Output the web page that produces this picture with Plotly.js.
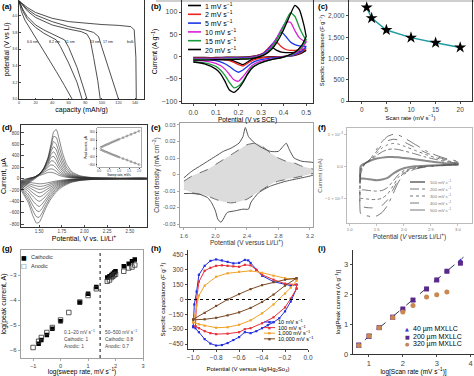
<!DOCTYPE html>
<html><head><meta charset="utf-8">
<script src="https://cdn.plot.ly/plotly-3.0.1.min.js"></script>
<style>html,body{margin:0;padding:0;background:#fff}#chart{width:474px;height:376px}</style>
</head><body><div id="chart"></div>
<script>
// ================= DATA =================
// (a) discharge curves
const aLabels = ['6.6 nm','8.2 nm','11 nm','13 nm','17 nm','bulk'];
const aCap66 = [0,3,7,15,25,35,45,55,64];
const aV66   = [4.18,4.05,3.95,3.82,3.67,3.5,3.33,3.16,3.0];
const aCap82 = [0,5,10,20,30,40,45,50,60,70,76];
const aV82   = [4.18,4.05,3.96,3.86,3.79,3.74,3.71,3.63,3.43,3.2,3.0];
const aCap11 = [0,5,10,20,30,40,50,55,60,70,82];
const aV11   = [4.18,4.07,3.99,3.89,3.83,3.78,3.74,3.71,3.62,3.38,3.0];
const aCap13 = [0,10,20,40,60,75,82,86,90,95,98];
const aV13   = [4.18,4.06,3.98,3.89,3.84,3.81,3.78,3.71,3.5,3.22,3.0];
const aCap17 = [0,10,20,40,60,80,90,96,100,110,120];
const aV17   = [4.18,4.08,4.01,3.93,3.87,3.83,3.8,3.75,3.62,3.31,3.0];
const aCapBulk = [0,10,20,40,60,80,100,120,135,139,141,141.5];
const aVBulk   = [4.18,4.1,4.04,3.97,3.93,3.91,3.895,3.885,3.87,3.83,3.5,3.0];

// (b) CVs at several scan rates
const bNames = ['1 mV s<sup>−1</sup>','2 mV s<sup>−1</sup>','5 mV s<sup>−1</sup>','10 mV s<sup>−1</sup>','15 mV s<sup>−1</sup>','20 mV s<sup>−1</sup>'];
const bColors = ['#000000','#e8261f','#1e36e6','#d81fd8','#1a9a3c','#000000'];
const bXf = [0.0,0.05,0.1,0.15,0.2,0.25,0.28,0.31,0.33,0.35,0.37,0.39,0.41,0.43,0.45,0.47,0.49,0.5];
const bXr = [0.5,0.48,0.45,0.42,0.39,0.35,0.32,0.29,0.26,0.24,0.22,0.2,0.18,0.16,0.14,0.12,0.1,0.05,0.0];
const bFwd = [
  [-2,-2,-2,-1,-1,0,2,6,12,20,14,10,9,9,10,11,13,14],
  [-3,-3,-3,-2,-2,-1,2,8,18,28,32,22,16,14,14,15,17,18],
  [-4,-4,-4,-3,-3,-2,1,7,16,28,42,55,45,33,27,24,23,23],
  [-5,-5,-5,-4,-4,-3,0,5,13,25,42,62,77,77,58,42,35,33],
  [-6,-6,-6,-5,-5,-4,-1,4,11,22,38,58,80,98,90,65,45,38],
  [-8,-8,-7,-7,-6,-5,-2,3,9,18,32,50,72,95,115,105,70,45]
];
const bRev = [
  [14,8,3,1,0,0,-1,-2,-6,-12,-18,-14,-10,-7,-5,-4,-3,-2,-2],
  [18,10,4,1,0,-1,-2,-4,-9,-15,-21,-18,-13,-9,-7,-5,-4,-3,-3],
  [23,12,5,1,-1,-3,-5,-8,-14,-22,-30,-35,-30,-22,-16,-12,-9,-6,-5],
  [33,18,7,2,-2,-5,-8,-12,-20,-32,-45,-55,-52,-40,-28,-20,-15,-10,-8],
  [38,22,9,2,-3,-6,-10,-15,-24,-38,-55,-66,-70,-58,-42,-30,-22,-14,-11],
  [45,25,10,3,-2,-6,-10,-16,-26,-40,-58,-72,-80,-75,-55,-38,-28,-16,-12]
];

// (c) specific capacitance vs scan rate
const cRate = [1,2,5,10,15,20];
const cCap  = [2200,1950,1670,1490,1370,1260];

// (d) CVs (anodic / cathodic branches on shared potential grids)
const dXf = [1.30,1.35,1.40,1.45,1.50,1.55,1.60,1.63,1.66,1.69,1.72,1.76,1.80,1.86,1.95,2.10,2.40,2.69];
const dXr = [2.69,2.40,2.10,1.95,1.85,1.75,1.68,1.62,1.57,1.53,1.50,1.47,1.43,1.38,1.33,1.30];
const dAnodic = [
  [-200,-120,-60,-10,60,170,380,600,820,860,700,440,260,120,50,15,5,3],
  [-170,-100,-45,5,70,175,370,560,740,720,560,350,200,95,40,12,4,2],
  [-150,-85,-35,12,75,175,350,520,650,600,450,280,160,75,30,10,3,2],
  [-130,-70,-25,18,78,170,330,470,560,500,360,220,125,60,25,8,3,2],
  [-110,-55,-15,22,80,165,300,420,470,400,280,170,100,48,20,7,2,1],
  [-95,-45,-8,25,80,155,270,370,390,320,220,135,80,38,16,6,2,1],
  [-80,-35,-2,27,75,140,235,310,305,245,170,105,62,30,13,5,2,1],
  [-65,-25,3,28,70,125,200,240,230,180,125,78,46,23,10,4,1,1],
  [-50,-15,8,28,62,105,155,170,160,125,88,56,34,17,8,3,1,1],
  [-35,-8,10,26,50,80,108,110,100,80,57,37,23,12,6,2,1,1]
];
const dCathodic = [
  [-3,-5,-15,-35,-70,-150,-250,-380,-530,-680,-770,-780,-650,-420,-280,-200],
  [-2,-4,-13,-30,-60,-130,-220,-340,-480,-610,-680,-670,-560,-370,-250,-170],
  [-2,-4,-11,-26,-52,-115,-195,-300,-420,-530,-580,-560,-470,-320,-220,-150],
  [-2,-3,-9,-22,-45,-100,-170,-260,-370,-450,-490,-460,-390,-270,-190,-130],
  [-1,-3,-8,-19,-38,-85,-145,-225,-310,-375,-400,-370,-310,-220,-160,-110],
  [-1,-2,-7,-16,-32,-72,-122,-190,-255,-305,-320,-295,-250,-180,-130,-95],
  [-1,-2,-6,-13,-26,-60,-100,-155,-205,-240,-250,-230,-195,-145,-105,-80],
  [-1,-2,-5,-11,-21,-48,-80,-122,-160,-185,-190,-175,-150,-115,-85,-65],
  [-1,-1,-4,-9,-17,-38,-62,-93,-120,-135,-138,-128,-112,-88,-68,-50],
  [-1,-1,-3,-7,-13,-28,-45,-65,-82,-90,-92,-86,-76,-62,-50,-35]
];
// (d) inset: peak current vs sweep rate
const dInsRate = [0.1,0.2,0.3,0.4,0.5,0.6,0.7,0.8,0.9,1.0,1.2,1.4,1.6,1.8,2.0];
const dInsAn   = [60,110,160,200,240,290,330,370,410,450,530,610,690,770,850];
const dInsCat  = [-55,-100,-145,-185,-225,-265,-305,-340,-380,-420,-490,-560,-640,-710,-780];

// (e) CV solid and dashed
const eSolUpX = [1.6,1.7,1.8,1.9,2.0,2.1,2.2,2.3,2.35,2.38,2.42,2.5,2.6,2.7,2.8,2.86,2.9,2.94,3.0,3.1,3.25];
const eSolUpY = [-0.002,0.002,0.005,0.008,0.011,0.014,0.016,0.019,0.023,0.0285,0.023,0.019,0.016,0.014,0.014,0.017,0.019,0.015,0.01,0.008,0.007];
const eSolLoX = [3.25,3.1,2.9,2.7,2.55,2.45,2.42,2.35,2.25,2.15,2.1,2.07,2.03,2.0,1.95,1.9,1.8,1.7,1.6];
const eSolLoY = [0.0,-0.002,-0.004,-0.007,-0.011,-0.017,-0.021,-0.021,-0.022,-0.023,-0.027,-0.029,-0.027,-0.022,-0.017,-0.014,-0.012,-0.0115,-0.0115];
const eDashUpX = [1.6,1.7,1.8,1.9,2.0,2.1,2.2,2.3,2.4,2.5,2.55,2.6,2.7,2.8,2.9,3.0,3.1,3.25];
const eDashUpY = [-0.004,-0.001,0.001,0.003,0.006,0.009,0.012,0.015,0.018,0.019,0.0185,0.017,0.013,0.01,0.008,0.007,0.005,0.003];
const eDashLoX = [3.25,3.1,3.0,2.9,2.8,2.7,2.6,2.5,2.4,2.3,2.2,2.1,2.0,1.9,1.8,1.7,1.6];
const eDashLoY = [0.001,-0.001,-0.002,-0.003,-0.004,-0.006,-0.009,-0.012,-0.015,-0.0165,-0.0172,-0.0165,-0.015,-0.013,-0.012,-0.011,-0.009];

// (f) CVs at 100-500 mV/s (current in units of 1e-3 mA)
const fNames = ['100 mV s<sup>−1</sup>','200 mV s<sup>−1</sup>','300 mV s<sup>−1</sup>','400 mV s<sup>−1</sup>','500 mV s<sup>−1</sup>'];
const fXu = [1.2,1.25,1.3,1.35,1.4,1.5,1.6,1.7,1.8,1.9,2.0,2.2,2.4,2.6,2.8,3.0];
const fXl = [3.0,2.8,2.6,2.4,2.2,2.0,1.9,1.8,1.7,1.6,1.5,1.4,1.3,1.25,1.2];
const fUpper = [
  [0.0,0.08,0.12,0.16,0.2,0.25,0.28,0.3,0.3,0.29,0.27,0.23,0.18,0.14,0.1,0.08],
  [-0.1,0.05,0.12,0.16,0.22,0.35,0.46,0.53,0.55,0.53,0.49,0.4,0.3,0.22,0.15,0.1],
  [-0.15,0.03,0.12,0.17,0.24,0.42,0.58,0.68,0.72,0.7,0.64,0.51,0.38,0.27,0.18,0.12],
  [-0.2,0.02,0.12,0.18,0.26,0.48,0.68,0.8,0.85,0.83,0.77,0.6,0.44,0.31,0.21,0.14],
  [-0.25,0.0,0.12,0.19,0.28,0.55,0.78,0.94,1.0,0.98,0.9,0.7,0.5,0.35,0.24,0.16]
];
const fLower = [
  [0.06,0.05,0.04,0.03,0.01,-0.05,-0.12,-0.22,-0.35,-0.4,-0.42,-0.4,-0.38,-0.37,-0.37],
  [0.07,0.05,0.03,0.01,-0.03,-0.12,-0.25,-0.45,-0.65,-0.74,-0.76,-0.75,-0.73,-0.72,-0.72],
  [0.08,0.05,0.03,0.0,-0.05,-0.16,-0.33,-0.6,-0.85,-0.98,-1.02,-1.02,-1.0,-0.99,-0.98],
  [0.09,0.06,0.03,0.0,-0.06,-0.2,-0.4,-0.72,-1.03,-1.2,-1.27,-1.28,-1.27,-1.25,-1.24],
  [0.1,0.06,0.03,-0.01,-0.08,-0.24,-0.48,-0.85,-1.2,-1.42,-1.53,-1.55,-1.52,-1.48,-1.45]
];

// (g) log peak current vs log sweep rate
const gCathX = [-0.8,-0.7,-0.5,-0.3,0,0.7,1.0,1.3,1.7,1.78,1.85,1.9,1.95,2.0,2.3,2.48,2.6,2.7];
const gCathY = [-5.75,-5.6,-5.4,-5.15,-4.85,-4.1,-3.75,-3.48,-3.1,-3.05,-3.0,-2.95,-2.9,-2.85,-2.65,-2.55,-2.45,-2.38];
const gAnoX  = [-1.0,-0.8,-0.7,-0.5,-0.3,0,0.3,0.7,1.0,1.3,1.7,1.78,1.85,1.9,1.95,2.0,2.3,2.48,2.6,2.7];
const gAnoY  = [-5.9,-5.65,-5.5,-5.3,-5.1,-4.8,-4.5,-4.08,-3.82,-3.55,-3.25,-3.2,-3.1,-3.05,-3.0,-2.97,-2.85,-2.72,-2.68,-2.6];

// (h) capacitance CVs
const hNames = ['10 mV s<sup>−1</sup>','100 mV s<sup>−1</sup>','1,000 mV s<sup>−1</sup>','10,000 mV s<sup>−1</sup>'];
const hColors = ['#2330e0','#e8303a','#f2a227','#7a4a26'];
const h10X = [-1.0,-0.99,-0.97,-0.95,-0.9,-0.85,-0.8,-0.75,-0.7,-0.65,-0.6,-0.55,-0.52,-0.5,-0.45,-0.4,-0.3,-0.2,-0.15,-0.1,
              -0.1,-0.15,-0.2,-0.25,-0.3,-0.35,-0.4,-0.45,-0.5,-0.55,-0.6,-0.65,-0.7,-0.75,-0.8,-0.85,-0.9,-0.95,-0.98,-1.0];
const h10Y = [-280,-50,80,250,340,390,405,395,380,365,370,400,395,370,300,240,180,150,140,150,
              110,-20,-120,-190,-230,-260,-290,-320,-340,-330,-380,-410,-440,-460,-465,-445,-400,-330,-290,-270];
const h100X = [-0.98,-0.97,-0.95,-0.9,-0.85,-0.8,-0.75,-0.7,-0.65,-0.6,-0.55,-0.5,-0.45,-0.4,-0.3,-0.2,-0.1,
               -0.1,-0.15,-0.2,-0.3,-0.4,-0.5,-0.55,-0.6,-0.7,-0.8,-0.85,-0.9,-0.95,-0.98];
const h100Y = [-270,0,180,290,320,340,345,340,335,330,350,345,300,250,200,160,150,
               110,10,-80,-180,-240,-290,-300,-330,-345,-350,-340,-320,-290,-270];
const h1kX = [-1.0,-0.97,-0.95,-0.9,-0.8,-0.7,-0.6,-0.5,-0.4,-0.3,-0.2,-0.1,
              -0.1,-0.15,-0.2,-0.3,-0.4,-0.5,-0.6,-0.7,-0.8,-0.9,-0.95,-1.0];
const h1kY = [-230,-60,40,140,230,265,280,290,270,240,215,205,
              190,120,60,-50,-140,-210,-255,-280,-285,-265,-250,-230];
const h10kX = [-1.0,-0.9,-0.8,-0.7,-0.6,-0.5,-0.4,-0.3,-0.2,-0.1,
               -0.1,-0.2,-0.3,-0.4,-0.5,-0.6,-0.7,-0.8,-0.9,-1.0];
const h10kY = [-200,-135,-65,0,55,105,145,175,200,215,
               215,140,50,-25,-85,-130,-160,-185,-200,-205];

// (i) log peak current vs log scan rate
const iNames = ['40 µm MXLLC','200 µm MXLLC','320 µm MXLLC'];
const i40X  = [0.7,1,1.3,1.7,2,2.3,2.7,3,3.3,3.7];
const i40Y  = [0.25,0.55,0.87,1.2,1.5,1.78,2.17,2.47,2.77,3.1];
const i200X = [0.7,1,1.3,1.7,2,2.3,2.7,3,3.3,3.7];
const i200Y = [0.3,0.6,0.88,1.23,1.5,1.8,2.17,2.47,2.76,3.03];
const i320X = [0.7,1,1.3,1.7,2,2.3,2.7,3,3.3];
const i320Y = [0.28,0.6,0.88,1.22,1.4,1.62,1.9,1.98,2.07];
const iFitX = [0.88,3.79];
const iFitY = [0.47,3.23];

// ================= LAYOUT HELPERS =================
const W = 474, H = 376;
const FONT = 'Arial, "Liberation Sans", sans-serif';
const px = v => v / W;
const py = v => 1 - v / H;
function ax(dom, rng, o) {
  return Object.assign({
    domain: dom, range: rng, showline: true, linecolor: '#000', linewidth: 0.8, mirror: true,
    ticks: 'outside', ticklen: 2.5, tickwidth: 0.7, tickcolor: '#000', showgrid: false, zeroline: false,
    automargin: false, fixedrange: true, tickfont: {size: 6, color: '#000', family: FONT}
  }, o);
}
function ttl(text, size, standoff, color) {
  return {text: text, font: {size: size, color: color || '#000', family: FONT}, standoff: standoff};
}

const traces = [];
const shapes = [];
const annotations = [];

// (a)
const aXs = [aCap66, aCap82, aCap11, aCap13, aCap17, aCapBulk];
const aYs = [aV66, aV82, aV11, aV13, aV17, aVBulk];
aXs.forEach((x, k) => traces.push({x: x, y: aYs[k], xaxis: 'x', yaxis: 'y', mode: 'lines', line: {color: '#222', width: 0.8}, hoverinfo: 'skip'}));
const aLabX = [15.7, 43, 61, 92, 107, 134];
aLabels.forEach((t, k) => annotations.push({xref: 'x', yref: 'y', x: aLabX[k], y: 3.69, text: t, showarrow: false, font: {size: 3.6, color: '#222', family: FONT}}));

// (b)
bFwd.forEach((f, k) => traces.push({x: bXf.concat(bXr), y: f.concat(bRev[k]), xaxis: 'x2', yaxis: 'y2', mode: 'lines', line: {color: bColors[k], width: 1.3, shape: 'spline', smoothing: 0.6}, hoverinfo: 'skip'}));

// (c)
traces.push({x: cRate, y: cCap, xaxis: 'x3', yaxis: 'y3', mode: 'lines+markers', line: {color: '#1f9aa3', width: 1.4}, marker: {symbol: 'star', size: 9, color: '#000'}, hoverinfo: 'skip'});

// (d)
dAnodic.forEach((a, k) => traces.push({x: dXf.concat(dXr, [dXf[0]]), y: a.concat(dCathodic[k], [a[0]]), xaxis: 'x4', yaxis: 'y4', mode: 'lines', line: {color: '#333', width: 0.6, shape: 'spline', smoothing: 0.5}, hoverinfo: 'skip'}));
traces.push({x: dInsRate, y: dInsAn, xaxis: 'x10', yaxis: 'y10', mode: 'lines+markers', line: {color: '#666', width: 0.5}, marker: {symbol: 'circle-open', size: 2, color: '#444', line: {width: 0.4}}, hoverinfo: 'skip'});
traces.push({x: dInsRate, y: dInsCat, xaxis: 'x10', yaxis: 'y10', mode: 'lines+markers', line: {color: '#666', width: 0.5}, marker: {symbol: 'circle-open', size: 2, color: '#444', line: {width: 0.4}}, hoverinfo: 'skip'});

// (e)
traces.push({x: eDashUpX.concat(eDashLoX), y: eDashUpY.concat(eDashLoY), xaxis: 'x5', yaxis: 'y5', mode: 'lines', fill: 'toself', fillcolor: '#dcdcdc', line: {color: '#666', width: 1, dash: 'dash', shape: 'spline', smoothing: 0.5}, hoverinfo: 'skip'});
traces.push({x: eSolUpX.concat(eSolLoX), y: eSolUpY.concat(eSolLoY), xaxis: 'x5', yaxis: 'y5', mode: 'lines', line: {color: '#555', width: 1, shape: 'spline', smoothing: 0.5}, hoverinfo: 'skip'});

// (f)
const fDash = ['solid', 'dashdot', 'dot', 'dash', 'longdashdot'];
const fColor = ['#8a8a8a', '#555', '#666', '#555', '#555'];
const fWidth = [2, 0.8, 0.9, 0.8, 0.8];
fUpper.forEach((u, k) => traces.push({x: fXu.concat(fXl, [fXu[0]]), y: u.concat(fLower[k], [u[0]]), xaxis: 'x6', yaxis: 'y6', mode: 'lines', line: {color: fColor[k], width: fWidth[k], dash: fDash[k], shape: 'spline', smoothing: 0.5}, hoverinfo: 'skip'}));

// (g)
traces.push({x: gCathX, y: gCathY, xaxis: 'x7', yaxis: 'y7', mode: 'markers', marker: {symbol: 'square', size: 4.5, color: '#000'}, hoverinfo: 'skip'});
traces.push({x: gAnoX, y: gAnoY, xaxis: 'x7', yaxis: 'y7', mode: 'markers', marker: {symbol: 'square-open', size: 4.5, color: '#333', line: {width: 0.8}}, hoverinfo: 'skip'});

// (h)
const hXs = [h10X, h100X, h1kX, h10kX];
const hYs = [h10Y, h100Y, h1kY, h10kY];
hXs.forEach((x, k) => traces.push({x: x, y: hYs[k], xaxis: 'x8', yaxis: 'y8', mode: 'lines+markers', line: {color: hColors[k], width: 1}, marker: {symbol: 'square', size: 2.2, color: hColors[k]}, hoverinfo: 'skip'}));

// (i)
traces.push({x: iFitX, y: iFitY, xaxis: 'x9', yaxis: 'y9', mode: 'lines', line: {color: '#333350', width: 1, dash: 'dash'}, hoverinfo: 'skip'});
const iColors = ['#3535d5', '#5b2a88', '#c8884f'];
const iSyms = ['triangle-up', 'square', 'circle'];
[[i40X, i40Y], [i200X, i200Y], [i320X, i320Y]].forEach((d, k) => traces.push({x: d[0], y: d[1], xaxis: 'x9', yaxis: 'y9', mode: 'markers', marker: {symbol: iSyms[k], size: 5, color: iColors[k]}, hoverinfo: 'skip'}));

// ---- manual legends ----
function legendLine(x0, y, len, color, width, dash) {
  shapes.push({type: 'line', xref: 'paper', yref: 'paper', x0: px(x0), x1: px(x0 + len), y0: py(y), y1: py(y), line: {color: color, width: width, dash: dash || 'solid'}});
}
function legendText(x, y, text, size, color) {
  annotations.push({xref: 'paper', yref: 'paper', x: px(x), y: py(y), xanchor: 'left', yanchor: 'middle', text: text, showarrow: false, font: {size: size, color: color || '#000', family: FONT}});
}
function legendGlyph(x, y, g, size, color) {
  annotations.push({xref: 'paper', yref: 'paper', x: px(x), y: py(y), xanchor: 'center', yanchor: 'middle', text: g, showarrow: false, font: {size: size, color: color, family: '"DejaVu Sans", sans-serif'}});
}
bNames.forEach((n, k) => { const y = 5.5 + k * 8.8; legendLine(188, y, 13, bColors[k], 1.6); legendText(203, y, n, 7, '#000'); });
fNames.forEach((n, k) => { const y = 182 + k * 7; legendLine(410, y, 15, fColor[k], fWidth[k], fDash[k]); legendText(428, y, n, 4.2, '#777'); });
legendGlyph(24, 257, '■', 6, '#000'); legendText(29, 257, 'Cathodic', 5.5, '#333');
legendGlyph(24, 265.5, '□', 6, '#333'); legendText(29, 265.5, 'Anodic', 5.5, '#333');
hNames.forEach((n, k) => { const y = 322 + k * 5.6; legendLine(264, y, 11, hColors[k], 1); legendGlyph(269.5, y, '■', 3, hColors[k]); legendText(276, y, n, 5.5, '#000'); });
const iGlyphs = ['▲', '■', '●'];
iNames.forEach((n, k) => { const y = 329 + k * 7.5; legendGlyph(407, y, iGlyphs[k], 5, iColors[k]); legendText(411, y, n, 7, '#000'); });

// (g) annotations and divider
shapes.push({type: 'line', xref: 'x7', yref: 'y7 domain', x0: 1.44, x1: 1.44, y0: 0, y1: 1, line: {color: '#444', width: 1.3, dash: 'dot'}});
const gTxt = [['0.1–20 mV s<sup>−1</sup>', 'Cathodic: 1', 'Anodic: 1'], ['50–500 mV s<sup>−1</sup>', 'Cathodic: 0.8', 'Anodic: 0.7']];
const gTxtX = [0.05, 1.55];
const gTxtY = [-5.28, -5.56, -5.86];
gTxt.forEach((lines, c) => lines.forEach((t, r) => annotations.push({xref: 'x7', yref: 'y7', x: gTxtX[c], y: gTxtY[r], xanchor: 'left', yanchor: 'middle', text: t, showarrow: false, font: {size: 4.8, color: '#444', family: FONT}})));
// (h) zero line
shapes.push({type: 'line', xref: 'x8 domain', yref: 'y8', x0: 0, x1: 1, y0: 0, y1: 0, line: {color: '#000', width: 1.2, dash: 'dot'}});
// top grey strip
shapes.push({type: 'rect', xref: 'paper', yref: 'paper', x0: px(156), x1: 1, y0: py(2), y1: 1, fillcolor: '#cfcfcf', line: {width: 0}, layer: 'below'});

// panel labels
const pLabels = ['(a)', '(b)', '(c)', '(d)', '(e)', '(f)', '(g)', '(h)', '(i)'];
const pLX = [0, 149, 316, 0, 149, 316, 0, 149, 316];
const pLY = [0, 0, 0, 121, 121, 121, 242, 242, 242];
pLabels.forEach((t, k) => annotations.push({xref: 'paper', yref: 'paper', x: px(pLX[k]), y: py(pLY[k]), xanchor: 'left', yanchor: 'top', text: '<b>' + t + '</b>', showarrow: false, font: {size: 8, color: '#000', family: FONT}}));

const layout = {
  width: W, height: H, margin: {l: 0, r: 0, t: 0, b: 0}, paper_bgcolor: '#fff', plot_bgcolor: 'rgba(0,0,0,0)',
  showlegend: false, font: {family: FONT},
  xaxis: ax([px(19), px(144)], [0, 150.8], {anchor: 'y', tickvals: [0,20,40,60,80,100,120,140], ticks: 'inside', ticklen: 1.5, tickfont: {size: 3.8, color: '#333'}, title: ttl('capacity (mAh/g)', 7, 2)}),
  yaxis: ax([py(99), 1], [3.0, 4.19], {anchor: 'x', tickvals: [3.0,3.2,3.4,3.6,3.8,4.0], tickformat: '.1f', ticks: 'inside', ticklen: 1.5, tickfont: {size: 3.8, color: '#333'}, title: ttl('potential (V vs Li)', 7, 1)}),
  xaxis2: ax([px(182), px(313)], [-0.05, 0.53], {anchor: 'y2', dtick: 0.1, tick0: 0, tickformat: '.1f', tickfont: {size: 7}, title: ttl('Potential (V vs SCE)', 6.5, 2)}),
  yaxis2: ax([py(103), 1], [-104, 127], {anchor: 'x2', tickvals: [-100,-50,0,50,100], tickfont: {size: 7}, title: ttl('Current (A g<sup>−1</sup>)', 7, 2)}),
  xaxis3: ax([px(349), px(472)], [-2.6, 22.4], {anchor: 'y3', tickvals: [0,5,10,15,20], tickfont: {size: 6.5}, title: ttl('Scan rate (mV s<sup>−1</sup>)', 6, 2)}),
  yaxis3: ax([py(101), 1], [0, 2376], {anchor: 'x3', tickvals: [0,500,1000,1500,2000], tickformat: ',d', tickfont: {size: 6.5}, title: ttl('Specific capacitance (F g<sup>−1</sup>)', 5.8, 2)}),
  xaxis4: ax([px(21), px(147)], [1.3, 2.69], {anchor: 'y4', tickvals: [1.5,1.75,2.0,2.25,2.5], tickformat: '.2f', tickfont: {size: 4.5}, ticks: 'inside', title: ttl('Potential, V vs. Li/Li<sup>+</sup>', 7, 2)}),
  yaxis4: ax([py(227), py(125)], [-850, 940], {anchor: 'x4', dtick: 200, tick0: 0, tickfont: {size: 4.5}, ticks: 'inside', title: ttl('Current, μA', 7, 2)}),
  xaxis5: ax([px(180), px(313)], [1.55, 3.24], {anchor: 'y5', tickvals: [1.6,2.0,2.4,2.8,3.2], tickformat: '.1f', linecolor: '#888', tickcolor: '#888', tickfont: {size: 6, color: '#555'}, title: ttl('Potential (V versus Li/Li<sup>+</sup>)', 6.5, 2, '#333')}),
  yaxis5: ax([py(227), py(123)], [-0.0318, 0.0312], {anchor: 'x5', tickvals: [-0.03,-0.02,-0.01,0,0.01,0.02,0.03], ticktext: ['-0.03','-0.02','-0.01','0','0.01','0.02','0.03'], linecolor: '#888', tickcolor: '#888', tickfont: {size: 5.5, color: '#555'}, title: ttl('Current density (mA cm<sup>−2</sup>)', 6.5, 2, '#333')}),
  xaxis6: ax([px(347), px(472)], [0.95, 3.26], {anchor: 'y6', tickvals: [1.0,1.5,2.0,2.5,3.0], tickformat: '.1f', linecolor: '#aaa', tickcolor: '#aaa', tickfont: {size: 4.2, color: '#777'}, title: ttl('Potential (<i>V</i> versus Li/Li<sup>+</sup>)', 6.5, 2, '#333')}),
  yaxis6: ax([py(223), py(128)], [-1.75, 1.2], {anchor: 'x6', tickvals: [-1,0,1], ticktext: ['−1 × 10<sup>−3</sup>','0.0','1 × 10<sup>−3</sup>'], linecolor: '#aaa', tickcolor: '#aaa', tickfont: {size: 4.2, color: '#777'}, title: ttl('Current (mA)', 6, 2, '#555')}),
  xaxis7: ax([px(21), px(143)], [-1.44, 3.0], {anchor: 'y7', tickvals: [-1,0,1,2,3], linecolor: '#888', tickcolor: '#888', tickfont: {size: 5.6, color: '#444'}, title: ttl('log(sweep rate, mV s<sup>−1</sup>)', 6.5, 5)}),
  yaxis7: ax([py(358), py(250)], [-6.32, -2.0], {anchor: 'x7', tickvals: [-6,-5,-4,-3], linecolor: '#888', tickcolor: '#888', tickfont: {size: 6, color: '#444'}, title: ttl('log(peak current, A)', 7, 2)}),
  xaxis8: ax([px(188), px(308)], [-1.045, 0], {anchor: 'y8', mirror: false, tickvals: [-1,-0.8,-0.6,-0.4,-0.2,0], tickformat: '.1f', tickfont: {size: 6.5}, title: ttl('Potential (V versus Hg/Hg<sub>2</sub>So<sub>4</sub>)', 6, 6)}),
  yaxis8: ax([py(349), py(250)], [-500, 500], {anchor: 'x8', mirror: false, tickvals: [-450,-300,-150,0,150,300,450], tickfont: {size: 6.5}, title: ttl('Specific capacitance (F g<sup>−1</sup>)', 6, 2)}),
  xaxis9: ax([px(353), 1], [0.53, 4.1], {anchor: 'y9', mirror: false, tickvals: [1,2,3,4], tickfont: {size: 7.5}, title: ttl('log[Scan rate (mV s<sup>−1</sup>)]', 6.5, 2)}),
  yaxis9: ax([py(354), py(250)], [0, 3.47], {anchor: 'x9', mirror: false, tickvals: [0,1,2,3], tickfont: {size: 7.5}, title: ttl('log[Peak current (A g<sup>−1</sup>)]', 6, 2)}),
  xaxis10: ax([px(97), px(141)], [-0.1, 2.1], {anchor: 'y10', tickvals: [0,0.5,1,1.5,2], tickformat: '.1f', ticklen: 1, linewidth: 0.5, tickfont: {size: 3}, linecolor: '#555', title: ttl('Sweep rate, mV/s', 3, 0)}),
  yaxis10: ax([py(167), py(128)], [-900, 1000], {anchor: 'x10', tickvals: [-800,-400,0,400,800], ticklen: 1, linewidth: 0.5, tickfont: {size: 3}, linecolor: '#555', title: ttl('Peak current, μA', 3, 0)}),
  shapes: shapes, annotations: annotations
};
Plotly.newPlot('chart', traces, layout, {staticPlot: true, displayModeBar: false});
</script></body></html>
